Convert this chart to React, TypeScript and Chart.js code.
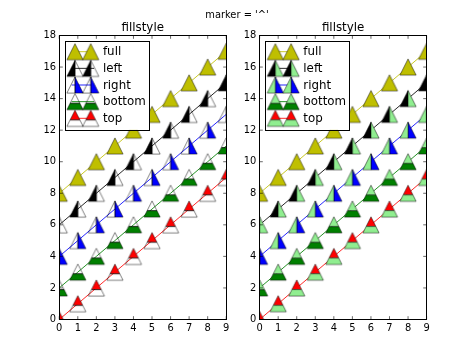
import { useEffect, useRef } from 'react';
import { Chart, registerables } from 'chart.js';
Chart.register(...registerables);

const xValues = [0, 1, 2, 3, 4, 5, 6, 7, 8, 9];
const fillStyles = ['full', 'left', 'right', 'bottom', 'top'];
const seriesColors = ['#bfbf00', '#000000', '#0000ff', '#008000', '#ff0000'];
const fullValues = [8, 9, 10, 11, 12, 13, 14, 15, 16, 17];
const leftValues = [6, 7, 8, 9, 10, 11, 12, 13, 14, 15];
const rightValues = [4, 5, 6, 7, 8, 9, 10, 11, 12, 13];
const bottomValues = [2, 3, 4, 5, 6, 7, 8, 9, 10, 11];
const topValues = [0, 1, 2, 3, 4, 5, 6, 7, 8, 9];
const seriesValues = [fullValues, leftValues, rightValues, bottomValues, topValues];
const altFillColors: (string | null)[] = [null, '#90ee90'];
const xTicks = [0, 1, 2, 3, 4, 5, 6, 7, 8, 9];
const yTicks = [0, 2, 4, 6, 8, 10, 12, 14, 16, 18];
const suptitleText = "marker = '^'";
const subplotTitle = 'fillstyle';

const FONT = '"DejaVu Sans", "Bitstream Vera Sans", sans-serif';
const W = 474;
const H = 355;
const MARKER = 16.2;

type Pt = [number, number];

function makeMarker(style: string, color: string, alt: string | null): HTMLCanvasElement {
  const dim = 20;
  const c = document.createElement('canvas');
  c.width = dim;
  c.height = dim;
  const ctx = c.getContext('2d')!;
  const cx = dim / 2;
  const cy = dim / 2;
  const h = MARKER / 2;
  const path = (pts: Pt[]) => {
    ctx.beginPath();
    pts.forEach(([x, y], i) => {
      const px = cx + x * h;
      const py = cy - y * h;
      if (i) ctx.lineTo(px, py);
      else ctx.moveTo(px, py);
    });
    ctx.closePath();
  };
  const draw = (pts: Pt[], fill: string | null) => {
    path(pts);
    if (fill) {
      ctx.fillStyle = fill;
      ctx.fill();
    }
    ctx.strokeStyle = '#000';
    ctx.lineWidth = 0.5;
    ctx.stroke();
  };
  const full: Pt[] = [[0, 1], [-1, -1], [1, -1]];
  const L: Pt[] = [[0, 1], [0, -1], [-1, -1]];
  const R: Pt[] = [[0, 1], [0, -1], [1, -1]];
  const U: Pt[] = [[0, 1], [-0.6, -0.2], [0.6, -0.2]];
  const D: Pt[] = [[-0.6, -0.2], [0.6, -0.2], [1, -1], [-1, -1]];
  const halves: Record<string, [Pt[], Pt[]]> = {
    left: [L, R],
    right: [R, L],
    top: [U, D],
    bottom: [D, U],
  };
  if (style === 'full') {
    draw(full, color);
  } else {
    const [a, b] = halves[style];
    draw(a, color);
    draw(b, alt);
  }
  return c;
}

function snap(v: number) {
  return Math.floor(v) + 0.5;
}

function makePlugin(markers: HTMLCanvasElement[], withSuptitle: boolean) {
  return {
    id: 'mplDecor',
    afterDraw(chart: any) {
      const ctx: CanvasRenderingContext2D = chart.ctx;
      const a = chart.chartArea;
      const xs = chart.scales.x;
      const ys = chart.scales.y;
      const Lx = snap(a.left);
      const Rx = snap(a.right);
      const Ty = snap(a.top);
      const By = snap(a.bottom);
      ctx.save();
      // ticks (inward, all sides)
      ctx.strokeStyle = '#000';
      ctx.lineWidth = 0.6;
      ctx.beginPath();
      const tl = 3.3;
      xTicks.forEach((v) => {
        const px = xs.getPixelForValue(v);
        ctx.moveTo(px, By);
        ctx.lineTo(px, By - tl);
        ctx.moveTo(px, Ty);
        ctx.lineTo(px, Ty + tl);
      });
      yTicks.forEach((v) => {
        const py = ys.getPixelForValue(v);
        ctx.moveTo(Lx, py);
        ctx.lineTo(Lx + tl, py);
        ctx.moveTo(Rx, py);
        ctx.lineTo(Rx - tl, py);
      });
      ctx.stroke();
      // frame
      ctx.lineWidth = 1;
      ctx.strokeRect(Lx, Ty, Rx - Lx, By - Ty);
      // title
      ctx.fillStyle = '#000';
      ctx.font = `11.85px ${FONT}`;
      ctx.textAlign = 'center';
      ctx.textBaseline = 'alphabetic';
      ctx.fillText(subplotTitle, (a.left + a.right) / 2, 31.4);
      if (withSuptitle) {
        ctx.font = `9.9px ${FONT}`;
        ctx.fillText(suptitleText, W / 2, 17.5);
      }
      // legend
      ctx.font = `11.85px ${FONT}`;
      const labels = chart.data.datasets.map((d: any) => d.label as string);
      const maxW = Math.max(...labels.map((t: string) => ctx.measureText(t).width));
      const bx = a.left + 5.9;
      const by = a.top + 5.9;
      const textOff = 37.8;
      const bw = textOff + maxW + 3.6;
      const bh = 88.5;
      ctx.fillStyle = '#fff';
      ctx.fillRect(bx, by, bw, bh);
      ctx.strokeStyle = '#000';
      ctx.lineWidth = 1;
      ctx.strokeRect(snap(bx), snap(by), Math.round(bw), Math.round(bh));
      chart.data.datasets.forEach((d: any, i: number) => {
        const cy = by + 10.3 + i * 16.65;
        ctx.strokeStyle = d.borderColor;
        ctx.lineWidth = 0.85;
        ctx.beginPath();
        ctx.moveTo(bx + 6.5, cy);
        ctx.lineTo(bx + 29, cy);
        ctx.stroke();
        const m = markers[i];
        ctx.drawImage(m, bx + 9.8 - m.width / 2, cy - m.height / 2);
        ctx.drawImage(m, bx + 25.6 - m.width / 2, cy - m.height / 2);
        ctx.fillStyle = '#000';
        ctx.textAlign = 'left';
        ctx.textBaseline = 'middle';
        ctx.fillText(d.label, bx + textOff, cy + 0.5);
      });
      ctx.restore();
    },
  };
}

function buildChart(canvas: HTMLCanvasElement, alt: string | null, axLeft: number, axRight: number, withSuptitle: boolean) {
  const markers = fillStyles.map((fs, i) => makeMarker(fs, seriesColors[i], alt));
  const datasets = fillStyles.map((fs, i) => ({
    label: fs,
    data: xValues.map((x, j) => ({ x, y: seriesValues[i][j] })),
    borderColor: seriesColors[i],
    backgroundColor: seriesColors[i],
    borderWidth: 0.85,
    pointStyle: markers[i],
    pointRadius: 8,
    pointHoverRadius: 8,
    tension: 0,
    clip: 0,
    order: fillStyles.length - i,
  }));
  const tickFont = { family: FONT, size: 9.9 };
  return new Chart(canvas, {
    type: 'line',
    data: { datasets } as any,
    options: {
      animation: false,
      responsive: false,
      devicePixelRatio: 1,
      layout: { padding: { left: 0, right: W - axRight, top: 35.5, bottom: 0 } },
      plugins: { legend: { display: false }, tooltip: { enabled: false }, title: { display: false } },
      events: [],
      scales: {
        x: {
          type: 'linear',
          min: 0,
          max: 9,
          ticks: { stepSize: 1, autoSkip: false, maxRotation: 0, padding: 3.3, color: '#000', font: tickFont },
          grid: { display: false, drawTicks: false },
          border: { display: false },
          afterFit: (s: any) => {
            s.height = 35.5;
          },
        },
        y: {
          type: 'linear',
          min: 0,
          max: 18,
          ticks: { stepSize: 2, autoSkip: false, padding: 3.3, color: '#000', font: tickFont },
          grid: { display: false, drawTicks: false },
          border: { display: false },
          afterFit: (s: any) => {
            s.width = axLeft;
          },
        },
      },
    } as any,
    plugins: [makePlugin(markers, withSuptitle)],
  });
}

export default function App() {
  const ref1 = useRef<HTMLCanvasElement>(null);
  const ref2 = useRef<HTMLCanvasElement>(null);
  useEffect(() => {
    const axW = (W * 0.775) / 2.2;
    const l1 = W * 0.125;
    const r1 = l1 + axW;
    const r2 = W * 0.9;
    const l2 = r2 - axW;
    const c1 = buildChart(ref1.current!, altFillColors[0], l1, r1, true);
    const c2 = buildChart(ref2.current!, altFillColors[1], l2, r2, false);
    return () => {
      c1.destroy();
      c2.destroy();
    };
  }, []);
  return (
    <div style={{ position: 'absolute', left: 0, top: 0, width: W, height: H, background: '#fff' }}>
      <canvas ref={ref1} width={W} height={H} style={{ position: 'absolute', left: 0, top: 0 }} />
      <canvas ref={ref2} width={W} height={H} style={{ position: 'absolute', left: 0, top: 0 }} />
    </div>
  );
}
